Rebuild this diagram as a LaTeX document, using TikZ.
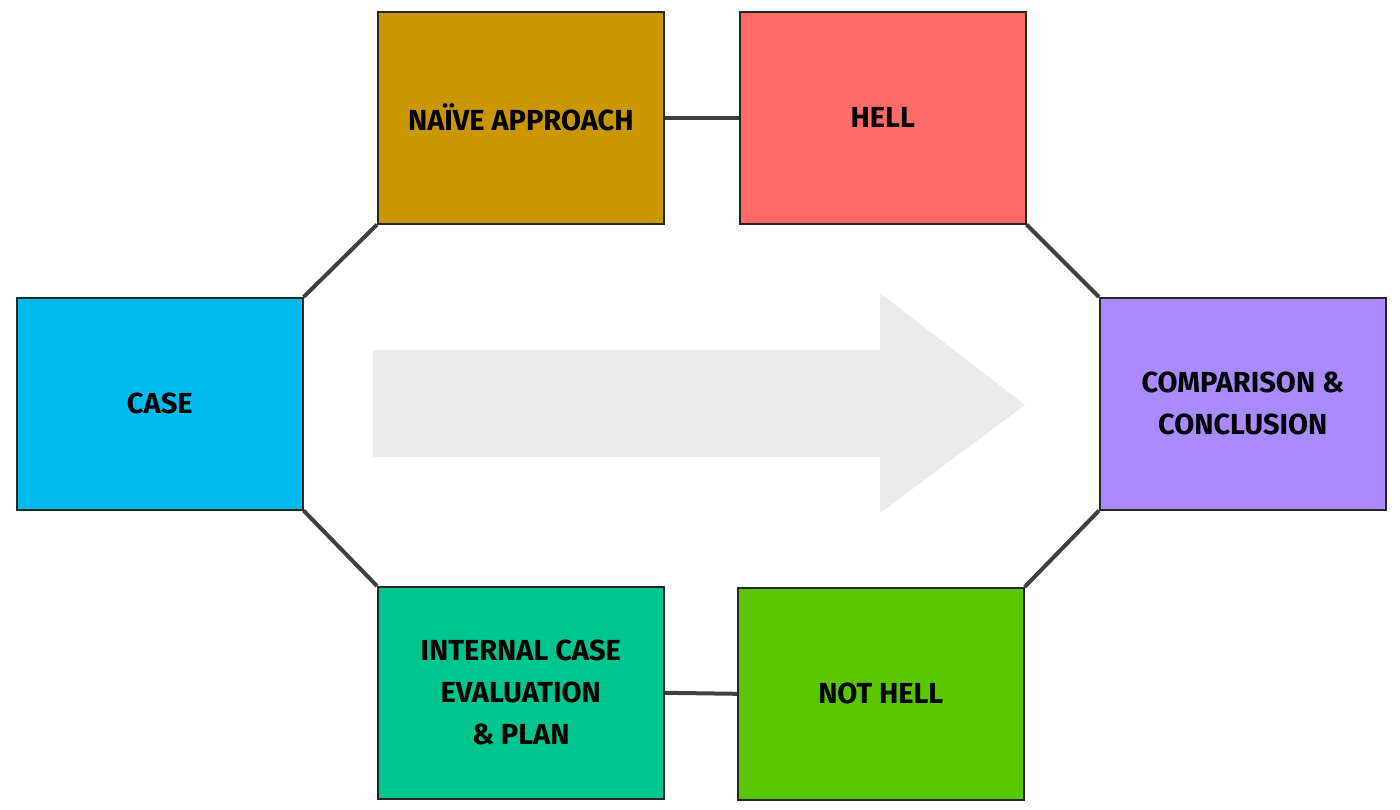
\documentclass[tikz,border=0pt]{standalone}
\usepackage{fontspec}
\setmainfont{Fira Sans}
\begin{document}
\begin{tikzpicture}[x=1pt,y=-1pt,
 box/.style={draw=black!85,line width=1.6pt,minimum width=286pt,minimum height=212pt,anchor=north west,inner sep=0pt,align=center,font=\fontsize{29}{42}\selectfont\bfseries},
 conn/.style={draw=black!75,line width=4pt}]
\useasboundingbox (0,0) rectangle (1400,809);
\definecolor{cCase}{HTML}{00BBF0}
\definecolor{cNaive}{HTML}{CA9700}
\definecolor{cHell}{HTML}{FF6B67}
\definecolor{cComp}{HTML}{AB89FF}
\definecolor{cInt}{HTML}{00C58E}
\definecolor{cNot}{HTML}{5AC600}
\fill[gray!16] (373,350) -- (880,350) -- (880,293) -- (1025,405) -- (880,513) -- (880,457) -- (373,457) -- cycle;
\node[box,fill=cCase] (case) at (16,297) {CASE};
\node[box,fill=cNaive] (naive) at (377,11) {NAÏVE APPROACH};
\node[box,fill=cHell] (hell) at (739,11) {HELL};
\node[box,fill=cComp] (comp) at (1099,297) {COMPARISON \&\\CONCLUSION};
\node[box,fill=cInt] (int) at (377,586) {INTERNAL CASE\\EVALUATION\\\& PLAN};
\node[box,fill=cNot] (not) at (737,587) {NOT HELL};
\draw[conn] (case.north east) -- (naive.south west);
\draw[conn] (naive.east) -- (hell.west);
\draw[conn] (hell.south east) -- (comp.north west);
\draw[conn] (case.south east) -- (int.north west);
\draw[conn] (int.east) -- (not.west);
\draw[conn] (not.north east) -- (comp.south west);
\end{tikzpicture}
\end{document}
